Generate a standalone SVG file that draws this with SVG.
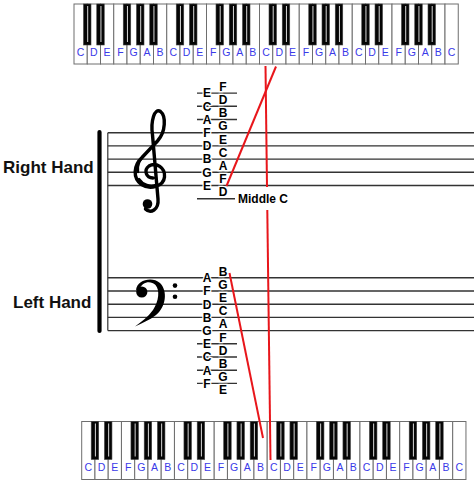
<svg xmlns="http://www.w3.org/2000/svg" xmlns:xlink="http://www.w3.org/1999/xlink" width="474" height="484" viewBox="0 0 474 484">
<style>
.wk{fill:#fff;stroke:#6e6e6e;stroke-width:1}
.bk{fill:#050505;stroke:#444;stroke-width:0.6}
.sp{stroke:#d8d8d8;stroke-width:1}
.kl{font-family:"Liberation Sans",Arial,sans-serif;font-size:10.5px;fill:#3a3ae8;text-anchor:middle}
.nl{font-family:"Liberation Sans",Arial,sans-serif;font-weight:bold;font-size:12px;fill:#000;text-anchor:middle;stroke:#fff;stroke-width:2.5;paint-order:stroke}
.hd{font-family:"Liberation Sans",Arial,sans-serif;font-weight:bold;font-size:17px;fill:#111}
.mc{font-family:"Liberation Sans",Arial,sans-serif;font-weight:bold;font-size:12px;fill:#000}
.staff{stroke:#333;stroke-width:1.4;fill:none}
.red{stroke:#e8161b;stroke-width:2;fill:none}
</style>
<defs>
<g id="whT">
<rect class="wk" x="0" y="0" width="13.25" height="60"/><rect class="wk" x="13.25" y="0" width="13.25" height="60"/><rect class="wk" x="26.5" y="0" width="13.25" height="60"/><rect class="wk" x="39.75" y="0" width="13.25" height="60"/><rect class="wk" x="53" y="0" width="13.25" height="60"/><rect class="wk" x="66.25" y="0" width="13.25" height="60"/><rect class="wk" x="79.5" y="0" width="13.25" height="60"/>
</g>
<g id="bkT">
<rect class="bk" x="9.5" y="0" width="7.5" height="41"/><line class="sp" x1="13.7" y1="2" x2="13.7" y2="38"/>
<rect class="bk" x="22.75" y="0" width="7.5" height="41"/><line class="sp" x1="26.95" y1="2" x2="26.95" y2="38"/>
<rect class="bk" x="49.25" y="0" width="7.5" height="41"/><line class="sp" x1="53.45" y1="2" x2="53.45" y2="38"/>
<rect class="bk" x="62.5" y="0" width="7.5" height="41"/><line class="sp" x1="66.7" y1="2" x2="66.7" y2="38"/>
<rect class="bk" x="75.75" y="0" width="7.5" height="41"/><line class="sp" x1="79.95" y1="2" x2="79.95" y2="38"/>
</g>
<g id="whB">
<rect class="wk" x="0" y="0" width="13.25" height="58"/><rect class="wk" x="13.25" y="0" width="13.25" height="58"/><rect class="wk" x="26.5" y="0" width="13.25" height="58"/><rect class="wk" x="39.75" y="0" width="13.25" height="58"/><rect class="wk" x="53" y="0" width="13.25" height="58"/><rect class="wk" x="66.25" y="0" width="13.25" height="58"/><rect class="wk" x="79.5" y="0" width="13.25" height="58"/>
</g>
<g id="bkB">
<rect class="bk" x="9.5" y="0" width="7.5" height="38"/><line class="sp" x1="13.7" y1="2" x2="13.7" y2="35"/>
<rect class="bk" x="22.75" y="0" width="7.5" height="38"/><line class="sp" x1="26.95" y1="2" x2="26.95" y2="35"/>
<rect class="bk" x="49.25" y="0" width="7.5" height="38"/><line class="sp" x1="53.45" y1="2" x2="53.45" y2="35"/>
<rect class="bk" x="62.5" y="0" width="7.5" height="38"/><line class="sp" x1="66.7" y1="2" x2="66.7" y2="35"/>
<rect class="bk" x="75.75" y="0" width="7.5" height="38"/><line class="sp" x1="79.95" y1="2" x2="79.95" y2="35"/>
</g>
<g id="lab">
<text class="kl" x="6.6">C</text><text class="kl" x="19.9">D</text><text class="kl" x="33.1">E</text><text class="kl" x="46.4">F</text><text class="kl" x="59.6">G</text><text class="kl" x="72.9">A</text><text class="kl" x="86.1">B</text>
</g>
</defs>
<rect width="474" height="484" fill="#fff"/>

<g id="keyboard-top" transform="translate(74,4)">
<use xlink:href="#whT" x="0"/><use xlink:href="#whT" x="92.75"/><use xlink:href="#whT" x="185.5"/><use xlink:href="#whT" x="278.25"/>
<rect class="wk" x="371" y="0" width="13.25" height="60"/>
<use xlink:href="#bkT" x="0"/><use xlink:href="#bkT" x="92.75"/><use xlink:href="#bkT" x="185.5"/><use xlink:href="#bkT" x="278.25"/>
<g transform="translate(0,51.5)"><use xlink:href="#lab" x="0"/><use xlink:href="#lab" x="92.75"/><use xlink:href="#lab" x="185.5"/><use xlink:href="#lab" x="278.25"/><text class="kl" x="377.6">C</text></g>
</g>

<g id="keyboard-bottom" transform="translate(81.7,421.5)">
<use xlink:href="#whB" x="0"/><use xlink:href="#whB" x="92.75"/><use xlink:href="#whB" x="185.5"/><use xlink:href="#whB" x="278.25"/>
<rect class="wk" x="371" y="0" width="13.25" height="58"/>
<use xlink:href="#bkB" x="0"/><use xlink:href="#bkB" x="92.75"/><use xlink:href="#bkB" x="185.5"/><use xlink:href="#bkB" x="278.25"/>
<g transform="translate(0,49.5)"><use xlink:href="#lab" x="0"/><use xlink:href="#lab" x="92.75"/><use xlink:href="#lab" x="185.5"/><use xlink:href="#lab" x="278.25"/><text class="kl" x="377.6">C</text></g>
</g>

<g id="brace">
<line x1="99.5" y1="132" x2="99.5" y2="331" stroke="#000" stroke-width="4.2" stroke-linecap="round"/>
<line x1="107.8" y1="132.7" x2="107.8" y2="330.6" stroke="#333" stroke-width="1.2"/>
</g>

<g id="hand-labels">
<text class="hd" x="3" y="173">Right Hand</text>
<text class="hd" x="13" y="308">Left Hand</text>
</g>

<g id="treble-staff">
<path class="staff" d="M107.8 132.7H474M107.8 145.9H474M107.8 159.1H474M107.8 172.3H474M107.8 185.5H474"/>
<path class="staff" d="M197 93.1H237M197 106.3H237M197 119.5H237M197 198.7H235"/>
<g id="treble-clef" fill="none" stroke="#000" stroke-linecap="round">
<path stroke-width="3.4" d="M153 178 C146 178 143.5 170 149 166 C156 161.5 165.5 168 164.5 177 C163.5 186.5 150 190 141.5 184.5 C132.5 178 133.5 165.5 142 157.5 L157.5 141 C166 131.5 166 116 160.5 111.5 C154.5 107.5 150.5 121 152.5 135 L158 199 C159 210 150.5 214 145.5 209"/>
<path stroke-width="2.4" d="M138 172 C137 164 140 160 144 155.5 M139 179 C143 185 150 187 156 185"/>
<circle cx="147.5" cy="204" r="4.8" fill="#000" stroke="none"/>
</g>
<text class="nl" x="207" y="97.4">E</text><text class="nl" x="207" y="110.6">C</text><text class="nl" x="207" y="123.8">A</text><text class="nl" x="207" y="137">F</text><text class="nl" x="207" y="150.2">D</text><text class="nl" x="207" y="163.4">B</text><text class="nl" x="207" y="176.6">G</text><text class="nl" x="207" y="189.8">E</text>
<text class="nl" x="223" y="90.8">F</text><text class="nl" x="223" y="104">D</text><text class="nl" x="223" y="117.2">B</text><text class="nl" x="223" y="130.4">G</text><text class="nl" x="223" y="143.6">E</text><text class="nl" x="223" y="156.8">C</text><text class="nl" x="223" y="170">A</text><text class="nl" x="223" y="183.2">F</text><text class="nl" x="223" y="196.4">D</text>
<text class="mc" x="238" y="203.3">Middle C</text>
</g>

<g id="bass-staff">
<path class="staff" d="M107.8 277.8H474M107.8 291H474M107.8 304.2H474M107.8 317.4H474M107.8 330.6H474"/>
<path class="staff" d="M197 343.8H237M197 357H237M197 370.2H237M197 383.4H237"/>
<g id="bass-clef" fill="#000">
<path d="M136 290 C137 280 152 276 160 283 C168 291 166 307 156 315 C150 320 142 323 135 326.5 C141 322 148 317 153 310 C159 301 160 290 155.5 285 C150.5 280 142 282 139.5 289 Z"/>
<circle cx="141.8" cy="292" r="5.6"/>
<circle cx="175" cy="285.6" r="2.3"/>
<circle cx="175" cy="296.8" r="2.3"/>
</g>
<text class="nl" x="207" y="282.1">A</text><text class="nl" x="207" y="295.3">F</text><text class="nl" x="207" y="308.5">D</text><text class="nl" x="207" y="321.7">B</text><text class="nl" x="207" y="334.9">G</text><text class="nl" x="207" y="348.1">E</text><text class="nl" x="207" y="361.3">C</text><text class="nl" x="207" y="374.5">A</text><text class="nl" x="207" y="387.7">F</text>
<text class="nl" x="223" y="275.5">B</text><text class="nl" x="223" y="288.7">G</text><text class="nl" x="223" y="301.9">E</text><text class="nl" x="223" y="315.1">C</text><text class="nl" x="223" y="328.3">A</text><text class="nl" x="223" y="341.5">F</text><text class="nl" x="223" y="354.7">D</text><text class="nl" x="223" y="367.9">B</text><text class="nl" x="223" y="381.1">G</text><text class="nl" x="223" y="394.3">E</text>
</g>

<g id="connectors">
<line class="red" x1="265.5" y1="66" x2="267" y2="187"/>
<line class="red" x1="267.3" y1="210" x2="270.5" y2="460"/>
<line class="red" x1="276" y1="66.5" x2="226.5" y2="186"/>
<line class="red" x1="229.5" y1="273" x2="263" y2="438"/>
</g>
</svg>
